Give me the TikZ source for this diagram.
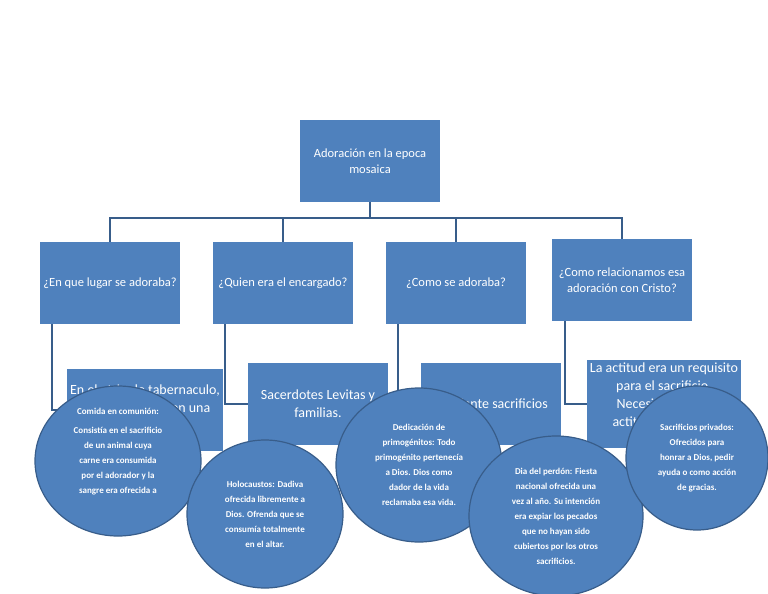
\documentclass[tikz,border=0pt]{standalone}
\usepackage{fontspec}
\setmainfont{Carlito}
\usetikzlibrary{positioning}
\definecolor{boxblue}{RGB}{79,129,189}
\definecolor{lineblue}{RGB}{56,93,138}
\tikzset{
  box/.style={rectangle, fill=boxblue, text=white, minimum width=140pt, minimum height=82pt, inner sep=3pt, align=center, font=\fontsize{12.5}{16}\selectfont},
  bubble/.style={ellipse, fill=boxblue, draw=lineblue, line width=1.2pt, text=white, inner sep=0pt, align=center, font=\fontsize{9}{15}\selectfont\bfseries},
  link/.style={draw=lineblue, line width=1.6pt}
}
\usetikzlibrary{shapes.geometric}
\begin{document}
\begin{tikzpicture}[x=1pt,y=-1pt]
\useasboundingbox (0,0) rectangle (768,594);
% ROOT
\node [box] (root) at (370,161) {Adoración en la epoca\\ mosaica};
% QUESTIONS
\node [box] (where) at (110,283) {¿En que lugar se adoraba?};
\node [box] (who) at (283,283) {¿Quien era el encargado?};
\node [box] (how) at (456,283) {¿Como se adoraba?};
\node [box] (christ) at (622,280) {¿Como relacionamos esa\\ adoración con Cristo?};
% ANSWERS
\node [box, font=\fontsize{14}{18}\selectfont] (atrio) at (145,410) {En el atrio de tabernaculo,\\ la cual consistia en una\\ \strut};
\node [box, font=\fontsize{14}{18}\selectfont] (levitas) at (318,404) {Sacerdotes Levitas y\\ familias.};
\node [box, font=\fontsize{14}{18}\selectfont] (sacr) at (491,404) {Mediante sacrificios};
\node [box, font=\fontsize{14}{18}\selectfont] (actitud) at (664,404) {La actitud era un requisito\\ para el sacrificio.\\ Necesitaban una\\ actitud correcta al\\ adorar};
% CONNECTORS
\draw [link] (root.south) -- ++(0,16) coordinate (bus);
\draw [link] (where.north) |- (bus) -| (christ.north);
\draw [link] (who.north) -- (who.north |- bus);
\draw [link] (how.north) -- (how.north |- bus);
\draw [link] ([xshift=-58pt]where.south) |- (atrio.west);
\draw [link] ([xshift=-58pt]who.south) |- (levitas.west);
\draw [link] ([xshift=-58pt]how.south) |- (sacr.west);
\draw [link] ([xshift=-57pt]christ.south) |- (actitud.west);
% BUBBLES
\node [bubble, minimum width=166pt, minimum height=150pt] (comida) at (118,461) {Comida en comunión:\\[4pt] Consistía en el sacrificio\\ de un animal cuya\\ carne era consumida\\ por el adorador y la\\ sangre era ofrecida a\\ \strut};
\node [bubble, minimum width=156pt, minimum height=148pt] (holo) at (265,514) {Holocaustos: Dadiva\\ ofrecida libremente a\\ Dios. Ofrenda que se\\ consumía totalmente\\ en el altar.};
\node [bubble, minimum width=166pt, minimum height=154pt] (primo) at (419,465) {Dedicación de\\ primogénitos: Todo\\ primogénito pertenecía\\ a Dios. Dios como\\ dador de la vida\\ reclamaba esa vida.};
\node [bubble, minimum width=174pt, minimum height=160pt] (perdon) at (556,516) {Dia del perdón: Fiesta\\ nacional ofrecida una\\ vez al año. Su intención\\ era expiar los pecados\\ que no hayan sido\\ cubiertos por los otros\\ sacrificios.};
\node [bubble, minimum width=142pt, minimum height=144pt] (privados) at (697,458) {Sacrificios privados:\\ Ofrecidos para\\ honrar a Dios, pedir\\ ayuda o como acción\\ de gracias.};
\end{tikzpicture}
\end{document}
